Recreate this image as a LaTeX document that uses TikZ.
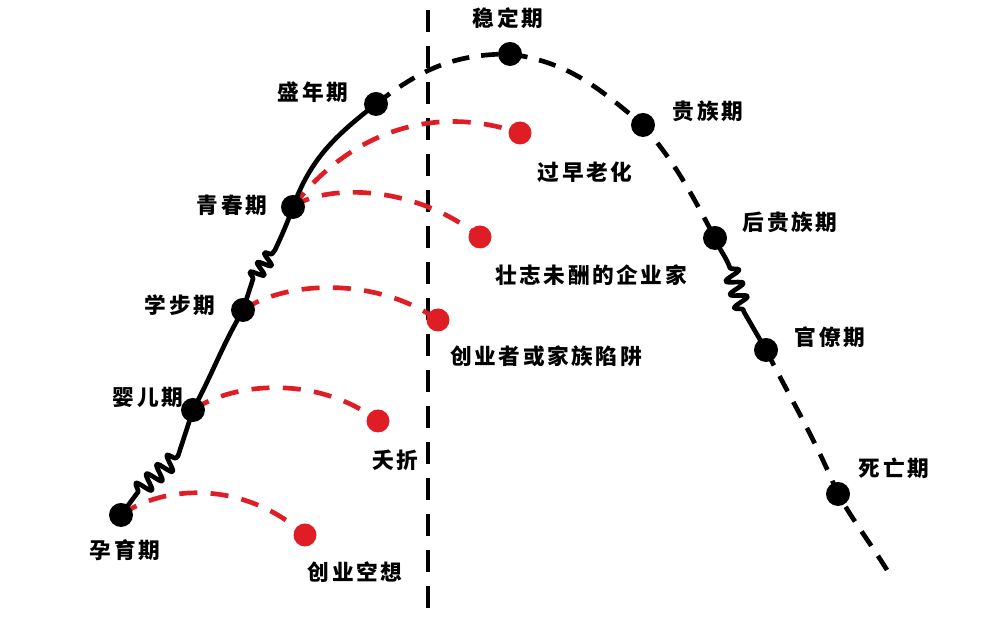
\documentclass[tikz,border=0pt]{standalone}
\usepackage{fontspec}
\newfontfamily\cjk[LetterSpace=12]{Noto Sans CJK SC}
\usetikzlibrary{decorations.pathmorphing}
\definecolor{dred}{RGB}{222,30,36}
\begin{document}
\begin{tikzpicture}[x=0.03cm,y=0.03cm,
  life/.style={black, line width=0.14cm},
  lifedash/.style={life, dash pattern=on 0.52cm off 0.36cm},
  reddash/.style={dred, line width=0.14cm, dash pattern=on 0.54cm off 0.4cm},
  vline/.style={black, line width=0.14cm, dash pattern=on 0.66cm off 0.42cm},
  bdot/.style={circle, fill=black, inner sep=0pt, minimum size=0.72cm},
  rdot/.style={circle, fill=dred, inner sep=0pt, minimum size=0.69cm},
  lbl/.style={font=\cjk\bfseries\fontsize{18.5}{20}\selectfont, inner sep=0pt}
]
\useasboundingbox (0,0) rectangle (1000,626);
% key points
\coordinate (A) at (121,111);
\coordinate (B) at (193,216);
\coordinate (C) at (243,316);
\coordinate (D) at (293,419);
\coordinate (E) at (376,522);
\coordinate (F) at (510,572);
\coordinate (G) at (643,501);
\coordinate (H) at (715,388);
\coordinate (I) at (766,276);
\coordinate (J) at (838,132);
\coordinate (K) at (887,56);
\coordinate (a1) at (138,134);
\coordinate (a2) at (178,170);
\coordinate (c1) at (253,347);
\coordinate (c2) at (275,376);
\coordinate (h1) at (730,358);
\coordinate (h2) at (744,314);
\coordinate (R1) at (520,493);
\coordinate (R2) at (480,389);
\coordinate (R3) at (438,306);
\coordinate (R4) at (378,205);
\coordinate (R5) at (305,91);
\coordinate (vt) at (428,616);
\coordinate (vb) at (428,10);

% vertical divider
\draw[vline] (vt) -- (vb);

% red branches
\draw[reddash] (A) .. controls (165,142) and (245,145) .. (R5);
\draw[reddash] (B) .. controls (235,245) and (320,250) .. (R4);
\draw[reddash] (C) .. controls (285,345) and (375,350) .. (R3);
\draw[reddash] (D) .. controls (320,440) and (410,445) .. (R2);
\draw[reddash] (D) .. controls (330,470) and (410,530) .. (R1);

% main life curve
\draw[life, line join=round] (A) -- (a1) decorate[decoration={snake, amplitude=0.24cm, segment length=0.42cm}] {-- (a2)} -- (B);
\draw[life] (B) to[out=62,in=240] (C);
\draw[life, line join=round] (C) -- (c1) decorate[decoration={snake, amplitude=0.2cm, segment length=0.36cm}] {-- (c2)} to[out=65,in=250] (D);
\draw[life] (D) to[out=70,in=218] (E);
\draw[lifedash] (E) to[out=38,in=180] (F) to[out=-8,in=140] (G) to[out=-50,in=118] (H);
\draw[life, line join=round] (H) to[out=-70,in=110] (h1) decorate[decoration={snake, amplitude=0.24cm, segment length=0.42cm}] {-- (h2)} to[out=-60,in=120] (I);
\draw[lifedash] (I) to[out=-63,in=113] (J) to[out=-60,in=122] (K);

% dots
\node[bdot] (nA) at (A) {};
\node[bdot] (nB) at (B) {};
\node[bdot] (nC) at (C) {};
\node[bdot] (nD) at (D) {};
\node[bdot] (nE) at (E) {};
\node[bdot] (nF) at (F) {};
\node[bdot] (nG) at (G) {};
\node[bdot] (nH) at (H) {};
\node[bdot] (nI) at (I) {};
\node[bdot] (nJ) at (J) {};
\node[rdot] (nR1) at (R1) {};
\node[rdot] (nR2) at (R2) {};
\node[rdot] (nR3) at (R3) {};
\node[rdot] (nR4) at (R4) {};
\node[rdot] (nR5) at (R5) {};

% labels
\node[lbl] (tA) at (125,76) {孕育期};
\node[lbl] (tB) at (148,229) {婴儿期};
\node[lbl] (tC) at (180,321) {学步期};
\node[lbl] (tD) at (232,421) {青春期};
\node[lbl] (tE) at (313,534) {盛年期};
\node[lbl] (tF) at (508,608) {稳定期};
\node[lbl] (tG) at (708,515) {贵族期};
\node[lbl] (tH) at (790,404) {后贵族期};
\node[lbl] (tI) at (830,289) {官僚期};
\node[lbl] (tJ) at (894,158) {死亡期};
\node[lbl] (tR1) at (585,454) {过早老化};
\node[lbl] (tR2) at (591,351) {壮志未酬的企业家};
\node[lbl] (tR3) at (546,270) {创业者或家族陷阱};
\node[lbl] (tR4) at (395,166) {夭折};
\node[lbl] (tR5) at (355,54) {创业空想};
\end{tikzpicture}
\end{document}
